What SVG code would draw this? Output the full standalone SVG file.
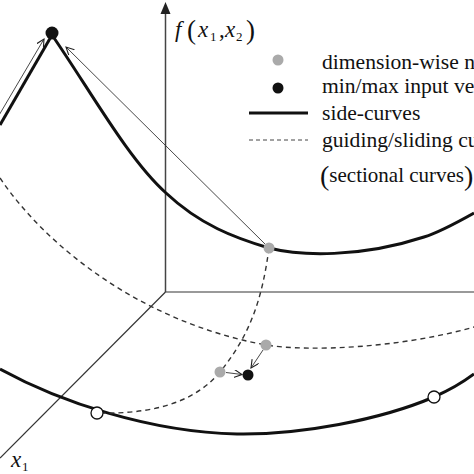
<svg xmlns="http://www.w3.org/2000/svg" width="474" height="474" viewBox="0 0 474 474">
<style>
.thick{fill:none;stroke:#111;stroke-width:3}
.dash{fill:none;stroke:#333;stroke-width:1.4;stroke-dasharray:5 4}
.thin{fill:none;stroke:#333;stroke-width:0.9;marker-end:url(#open)}
.gray{fill:#aaa}
.black{fill:#111}
.white{fill:#fff;stroke:#111;stroke-width:1.3}
text{font-family:"Liberation Serif","Times New Roman",serif;fill:#111}
.leg{font-size:21.6px}
.it{font-style:italic}
</style>
<defs>
<marker id="open" markerUnits="userSpaceOnUse" markerWidth="12" markerHeight="12" refX="8" refY="4" orient="auto">
<path d="M0,0 L8,4 L0,8" fill="none" stroke="#222" stroke-width="1.1"/>
</marker>
</defs>
<g id="axes">
<line x1="165.5" y1="292" x2="474" y2="292" stroke="#777" stroke-width="1.5"/>
<line x1="165.5" y1="292" x2="165.5" y2="12" stroke="#444" stroke-width="1.5"/>
<path d="M160.5,14 L170.5,14 L165.5,2 Z" fill="#222"/>
<line x1="165.5" y1="292" x2="0" y2="458" stroke="#333" stroke-width="1.2"/>
<text class="it" x="175" y="37" font-size="23">f</text>
<text x="187" y="39" font-size="27">(</text>
<text class="it" x="198" y="37" font-size="23">x</text>
<text x="210" y="41" font-size="13">1</text>
<text x="219" y="37" font-size="23">,</text>
<text class="it" x="225" y="37" font-size="23">x</text>
<text x="236" y="41" font-size="13">2</text>
<text x="246" y="39" font-size="27">)</text>
<text class="it" x="11" y="467" font-size="23">x</text>
<text x="22" y="471" font-size="13">1</text>
</g>
<g id="curves">
<path class="thick" d="M0,125 L52,35"/>
<path class="thick" d="M52,35 C90,90 128,159 166,193 C200,225 235,238 269,248 C300,256 360,258 424,237 C440,232 458,222 474,213"/>
<path class="thick" d="M0,369 C60,402 150,432 237,434 C300,435 380,420 434,397 C450,390 462,383 474,374"/>
<path class="dash" d="M0,178 C45,245 140,322 266,345 C310,352 400,348 474,327"/>
<path class="dash" d="M269,248 C262,300 250,335 220,372 C190,408 140,414 97,413"/>
</g>
<g id="connectors">
<line class="thin" x1="-5" y1="122" x2="44" y2="39"/>
<line class="thin" x1="265" y1="244" x2="66" y2="47"/>
<line class="thin" x1="226" y1="372.5" x2="242" y2="374.5"/>
<line class="thin" x1="263" y1="350" x2="251" y2="368"/>
</g>
<g id="points">
<circle class="black" cx="52" cy="33" r="6.5"/>
<circle class="gray" cx="269" cy="248" r="5.5"/>
<circle class="gray" cx="266" cy="345" r="5.5"/>
<circle class="gray" cx="220" cy="372" r="5.5"/>
<circle class="black" cx="248" cy="375" r="5.5"/>
<circle class="white" cx="97" cy="413" r="6"/>
<circle class="white" cx="434" cy="397" r="6"/>
</g>
<g id="legend">
<circle class="gray" cx="278" cy="60" r="5.5"/>
<circle class="black" cx="278" cy="88" r="5.5"/>
<line x1="249" y1="113" x2="308" y2="113" stroke="#111" stroke-width="3"/>
<line x1="249" y1="140" x2="308" y2="140" stroke="#444" stroke-width="1" stroke-dasharray="4 3"/>
<text class="leg" x="322" y="69">dimension-wise nodes</text>
<text class="leg" x="322" y="93">min/max input vectors</text>
<text class="leg" x="322" y="120">side-curves</text>
<text class="leg" x="322" y="147">guiding/sliding curves</text>
<text x="320" y="185" font-size="21"><tspan font-size="28">(</tspan><tspan dy="-3">sectional curves</tspan><tspan font-size="28" dy="3">)</tspan></text>
</g>
</svg>
